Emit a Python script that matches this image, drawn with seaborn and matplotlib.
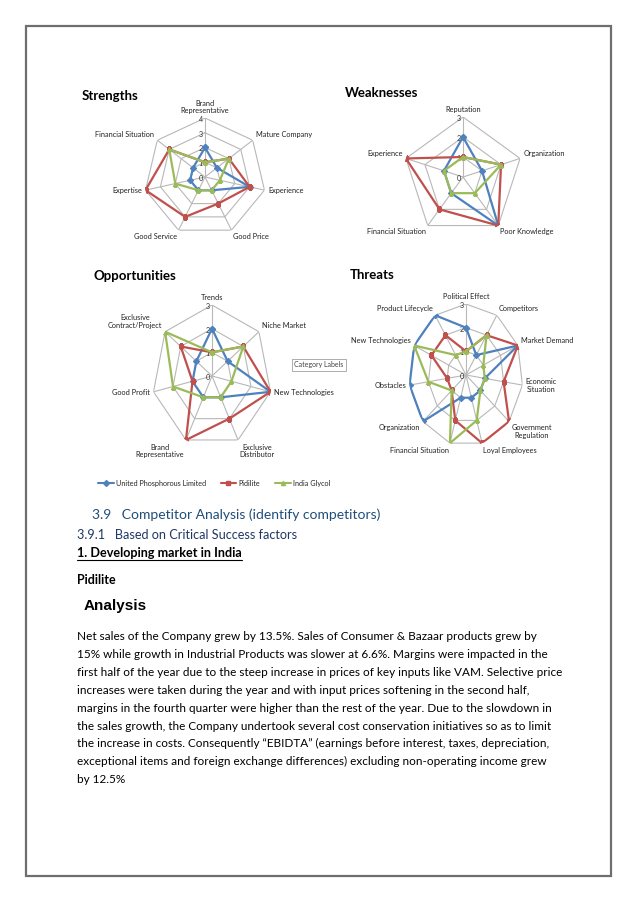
"""
Competitor analysis page: four SWOT radar charts + text block
"""
import numpy as np
import pandas as pd
import matplotlib.pyplot as plt
import seaborn as sns
from matplotlib.lines import Line2D
from matplotlib.patches import Rectangle

sns.set_theme(style="white")
plt.rcParams['font.family'] = ['Lato', 'DejaVu Sans']

W, H = 638, 902

companies = ['United Phosphorous Limited', 'Pidilite', 'India Glycol']
colors = {'United Phosphorous Limited': '#4F81BD', 'Pidilite': '#C0504D', 'India Glycol': '#9BBB59'}
markers = {'United Phosphorous Limited': 'D', 'Pidilite': 's', 'India Glycol': '^'}

# ---- data -------------------------------------------------------------------
strength_cats = ['Brand\nRepresentative', 'Mature Company', 'Experience', 'Good Price',
                 'Good Service', 'Expertise', 'Financial Situation']
strength_upl = [2, 1, 3, 1, 1, 1, 1]
strength_pid = [1, 2, 3, 2, 3, 4, 3]
strength_igl = [1, 2, 1, 1, 1, 2, 3]

weak_cats = ['Reputation', 'Organization', 'Poor Knowledge', 'Financial Situation', 'Experience']
weak_upl = [2, 1, 3, 1, 1]
weak_pid = [1, 2, 3, 2, 3]
weak_igl = [1, 2, 1, 1, 1]

opp_cats = ['Trends', 'Niche Market', 'New Technologies', 'Exclusive\nDistributor',
            'Brand\nRepresentative', 'Good Profit', 'Exclusive\nContract/Project']
opp_upl = [2, 1, 3, 1, 1, 1, 1]
opp_pid = [1, 2, 3, 2, 3, 1, 2]
opp_igl = [1, 2, 1, 1, 1, 2, 3]

threat_cats = ['Political Effect', 'Competitors', 'Market Demand', 'Economic\nSituation',
               'Government\nRegulation', 'Loyal Employees', 'Financial Situation',
               'Organization', 'Obstacles', 'New Technologies', 'Product Lifecycle']
threat_upl = [2, 1, 3, 1, 1, 1, 1, 3, 3, 3, 3]
threat_pid = [1, 2, 3, 2, 3, 3, 2, 1, 1, 2, 2]
threat_igl = [1, 2, 1, 1, 1, 2, 3, 1, 2, 3, 1]

paragraph = [
    "Net sales of the Company grew by 13.5%. Sales of Consumer & Bazaar products grew by",
    "15% while growth in Industrial Products was slower at 6.6%. Margins were impacted in the",
    "first half of the year due to the steep increase in prices of key inputs like VAM. Selective price",
    "increases were taken during the year and with input prices softening in the second half,",
    "margins in the fourth quarter were higher than the rest of the year. Due to the slowdown in",
    "the sales growth, the Company undertook several cost conservation initiatives so as to limit",
    "the increase in costs. Consequently \u201cEBIDTA\u201d (earnings before interest, taxes, depreciation,",
    "exceptional items and foreign exchange differences) excluding non-operating income grew",
    "by 12.5%",
]

fig = plt.figure(figsize=(W / 100, H / 100), dpi=100)


def fx(x):
    return x / W


def fy(y):
    return 1 - y / H


def radar(cx, cy, rx, ry, cats, series, rmax, title, title_xy):
    ax = fig.add_axes([fx(cx - rx), fy(cy + ry), 2 * rx / W, 2 * ry / H], projection='polar')
    ax.set_aspect('auto')
    n = len(cats)
    theta = np.linspace(0, 2 * np.pi, n, endpoint=False)
    theta_c = np.append(theta, 2 * np.pi)
    ax.set_theta_zero_location('N')
    ax.set_theta_direction(-1)
    ax.set_ylim(0, rmax)
    ax.grid(False)
    ax.spines['polar'].set_visible(False)
    ax.set_xticks([])
    ax.set_yticks([])
    ax.patch.set_alpha(0)

    # polygon grid + spokes
    for lev in range(1, rmax + 1):
        ax.plot(theta_c, [lev] * (n + 1), color='#B8B8B8', lw=0.8, zorder=1)
    for t in theta:
        ax.plot([t, t], [0, rmax], color='#B8B8B8', lw=0.8, zorder=1)
    for lev in range(0, rmax + 1):
        ax.annotate(str(lev), xy=(0, lev), xytext=(-1.5, -1), textcoords='offset points',
                    ha='right', va='center', fontsize=5.2, color='#333333')

    for name, vals in zip(companies, series):
        v = np.append(vals, vals[0])
        sns.lineplot(x=theta_c, y=v, ax=ax, sort=False, estimator=None,
                     color=colors[name], lw=1.6, marker=markers[name], markersize=3.2,
                     markeredgecolor=colors[name], zorder=3)
    ax.set_xlabel('')
    ax.set_ylabel('')

    for t, c in zip(theta, cats):
        s, co = np.sin(t), np.cos(t)
        ha = 'left' if s > 0.15 else ('right' if s < -0.15 else 'center')
        va = 'bottom' if co > 0.3 else ('top' if co < -0.3 else 'center')
        ax.text(t, rmax * 1.06, c, ha=ha, va=va, fontsize=5.3, color='#222222',
                linespacing=1.1, multialignment='center')

    fig.text(fx(title_xy[0]), fy(title_xy[1]), title, fontsize=9.5, fontweight='bold',
             ha='left', va='center', color='black')
    return ax


radar(205, 177, 61, 59, strength_cats, [strength_upl, strength_pid, strength_igl], 4,
      'Strengths', (82, 96))
radar(463, 177, 60, 60, weak_cats, [weak_upl, weak_pid, weak_igl], 3,
      'Weaknesses', (345, 93))
radar(212, 376, 60, 71, opp_cats, [opp_upl, opp_pid, opp_igl], 3,
      'Opportunities', (93, 276))
radar(466, 375, 57, 71, threat_cats, [threat_upl, threat_pid, threat_igl], 3,
      'Threats', (350, 275))

# tooltip left in the screenshot
fig.text(fx(319), fy(365), 'Category Labels', fontsize=5, ha='center', va='center',
         color='#444444',
         bbox=dict(boxstyle='square,pad=0.4', fc='white', ec='#A0A0A0', lw=0.6))

# legend
handles = [Line2D([0], [0], color=colors[c], marker=markers[c], markersize=3, lw=1.5)
           for c in companies]
fig.legend(handles, companies, loc='center', bbox_to_anchor=(fx(214), fy(483)), ncol=3,
           frameon=False, fontsize=5.2, handlelength=2.2, handletextpad=0.3, columnspacing=2.0)

# page text
fig.text(fx(92), fy(515), '3.9   Competitor Analysis (identify competitors)', fontsize=10,
         color='#1F4E79', ha='left', va='center')
fig.text(fx(77), fy(535), '3.9.1   Based on Critical Success factors', fontsize=9.1,
         color='#1F3763', ha='left', va='center')
t_dev = fig.text(fx(77), fy(553), '1. Developing market in India', fontsize=9.1,
                 fontweight='bold', ha='left', va='center', color='black')
fig.text(fx(77), fy(580), 'Pidilite', fontsize=9, fontweight='bold', ha='left',
         va='center', color='black')
fig.text(fx(84), fy(606), 'Analysis', fontsize=11, fontweight='bold',
         family='Liberation Sans', ha='left', va='center', color='black')

for i, line in enumerate(paragraph):
    fig.text(fx(77), fy(637 + i * 17.8), line, fontsize=8.45, ha='left', va='center',
             color='black')

# underline for the bold subheading
fig.canvas.draw()
bb = t_dev.get_window_extent(renderer=fig.canvas.get_renderer())
fig.add_artist(Line2D([bb.x0 / W, bb.x1 / W], [fy(559.5), fy(559.5)], color='black', lw=0.8,
                      transform=fig.transFigure))

# page border
fig.add_artist(Rectangle((fx(26), fy(876)), (611 - 26) / W, (876 - 26) / H,
                         transform=fig.transFigure, fill=False, ec='#6E6E6E', lw=1.6))

fig.savefig('out.png', dpi=100)
